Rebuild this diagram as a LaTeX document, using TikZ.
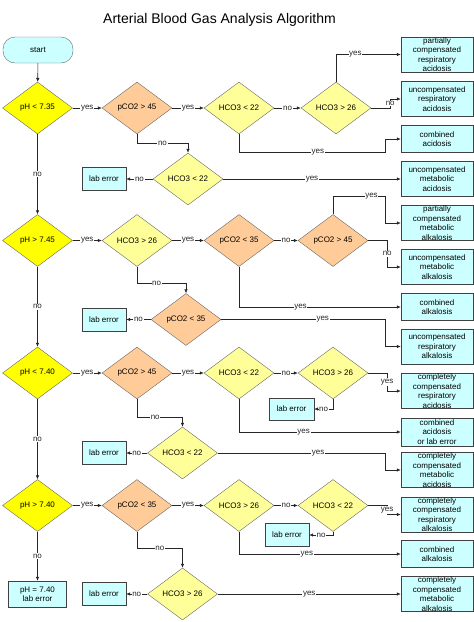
\documentclass[tikz,border=0pt]{standalone}
\usepackage{fontspec}
\setmainfont{Liberation Sans}
\usetikzlibrary{arrows.meta,shapes.geometric,shadows}
\definecolor{phyellow}{HTML}{FFFF00}
\definecolor{pcopeach}{HTML}{FFCC99}
\definecolor{hcoyellow}{HTML}{FFFF99}
\definecolor{boxcyan}{HTML}{CCFFFF}
\newcommand{\chartfont}{\fontsize{8}{9.5}\selectfont}
\tikzset{
    decision/.style={
        draw=black!60,
        diamond,
        aspect=1.35,
        inner sep=0pt,
        minimum width=70pt,
        minimum height=52pt,
        font=\chartfont
    },
    phdec/.style={decision, fill=phyellow},
    pcodec/.style={decision, fill=pcopeach},
    hcodec/.style={decision, fill=hcoyellow},
    result/.style={
        draw=black!75,
        fill=boxcyan,
        align=center,
        inner sep=0pt,
        minimum width=72pt,
        minimum height=35pt,
        font=\chartfont,
        drop shadow={shadow xshift=0.8pt, shadow yshift=-0.8pt, fill=black!55, opacity=1}
    },
    shortres/.style={result, minimum height=27pt},
    errbox/.style={result, minimum width=44pt, minimum height=23pt},
    terminal/.style={
        draw=black!60,
        fill=boxcyan,
        rounded corners=12pt,
        minimum width=70pt,
        minimum height=26pt,
        font=\chartfont
    },
    flow/.style={-{Latex[length=4pt,width=3.5pt]}, black!85, line width=0.6pt},
    lbl/.style={fill=white, inner sep=0.6pt, font=\chartfont}
}

\begin{document}
\begin{tikzpicture}[x=1pt, y=-1pt]
        \useasboundingbox (0,0) rectangle (474,622);
        \node[font=\fontsize{14}{16}\selectfont] (title) at (219.5,20) {Arterial Blood Gas Analysis Algorithm};
        \node[terminal] (start) at (38,50) {start};

        % acidosis, pH < 7.35
        \node[phdec] (ph1) at (37.5,108) {pH < 7.35};
        \node[pcodec] (pco1) at (137,108) {pCO2 > 45};
        \node[hcodec] (hco1) at (239,108) {HCO3 < 22};
        \node[hcodec] (hco2) at (336,108) {HCO3 > 26};
        \node[hcodec] (hco3) at (188,179) {HCO3 < 22};
        \node[errbox] (err1) at (104,179) {lab error};
        \node[result] (res1) at (437,54.5) {partially\\compensated\\respiratory\\acidosis};
        \node[result] (res2) at (437,99) {uncompensated\\respiratory\\acidosis};
        \node[shortres] (res3) at (437,139) {combined\\acidosis};
        \node[result] (res4) at (437,179) {uncompensated\\metabolic\\acidosis};

        % alkalosis, pH > 7.45
        \node[phdec] (ph2) at (37.5,240.5) {pH > 7.45};
        \node[hcodec] (hco4) at (137,240.5) {HCO3 > 26};
        \node[pcodec] (pco2) at (239,240.5) {pCO2 < 35};
        \node[pcodec] (pco3) at (333,240.5) {pCO2 > 45};
        \node[pcodec] (pco4) at (186,319.5) {pCO2 < 35};
        \node[errbox] (err2) at (104,319.5) {lab error};
        \node[result] (res5) at (437,223) {partially\\compensated\\metabolic\\alkalosis};
        \node[result] (res6) at (437,267) {uncompensated\\metabolic\\alkalosis};
        \node[shortres] (res7) at (437,307) {combined\\alkalosis};
        \node[result] (res8) at (437,346.5) {uncompensated\\respiratory\\alkalosis};

        % compensated, pH < 7.40
        \node[phdec] (ph3) at (37.5,373) {pH < 7.40};
        \node[pcodec] (pco5) at (137,373) {pCO2 > 45};
        \node[hcodec] (hco5) at (239,373) {HCO3 < 22};
        \node[hcodec] (hco6) at (333,373) {HCO3 > 26};
        \node[errbox, minimum width=45pt, minimum height=22pt] (err3) at (291.5,409) {lab error};
        \node[hcodec] (hco7) at (182.5,453) {HCO3 < 22};
        \node[errbox] (err4) at (104,453) {lab error};
        \node[result] (res9) at (437,391) {completely\\compensated\\respiratory\\acidosis};
        \node[result, minimum height=28pt] (res10) at (437,432) {combined\\acidosis\\or lab error};
        \node[result] (res11) at (437,470) {completely\\compensated\\metabolic\\acidosis};

        % compensated, pH > 7.40
        \node[phdec] (ph4) at (37.5,505.5) {pH > 7.40};
        \node[pcodec] (pco6) at (137,505.5) {pCO2 < 35};
        \node[hcodec] (hco8) at (239,505.5) {HCO3 > 26};
        \node[hcodec] (hco9) at (333,505.5) {HCO3 < 22};
        \node[errbox] (err5) at (287,535) {lab error};
        \node[hcodec] (hco10) at (182.5,594) {HCO3 > 26};
        \node[errbox] (err6) at (104,594) {lab error};
        \node[errbox, minimum width=58pt, minimum height=26pt] (err7) at (37.5,594) {pH = 7.40\\lab error};
        \node[result] (res12) at (437,514.5) {completely\\compensated\\respiratory\\alkalosis};
        \node[shortres] (res13) at (437,554) {combined\\alkalosis};
        \node[result] (res14) at (437,594) {completely\\compensated\\metabolic\\alkalosis};

        \draw[flow] (start) -- (ph1);
        \draw[flow] (ph1) -- node[lbl]{yes} (pco1);
        \draw[flow] (pco1) -- node[lbl]{yes} (hco1);
        \draw[flow] (hco1) -- node[lbl]{no} (hco2);
        \draw[flow] (hco2.north) |- node[lbl,pos=0.65]{yes} (res1.west);
        \draw[flow] (hco2.east) -- ++(19,0) |- node[lbl,pos=0.25]{no} (res2.west);
        \draw[flow] (hco1.south) |- node[lbl,pos=0.77]{yes} (385,152) |- (res3.west);
        \draw[flow] (pco1.south) -- ++(0,9) -| node[lbl,pos=0.25]{no} (hco3.north);
        \draw[flow] (hco3) -- node[lbl]{no} (err1);
        \draw[flow] (hco3) -- node[lbl]{yes} (res4);
        \draw[flow] (ph1) -- node[lbl]{no} (ph2);

        \draw[flow] (ph2) -- node[lbl]{yes} (hco4);
        \draw[flow] (hco4) -- node[lbl]{yes} (pco2);
        \draw[flow] (pco2) -- node[lbl]{no} (pco3);
        \draw[flow] (pco3.north) |- node[lbl,pos=0.87]{yes} (385,196) |- (res5.west);
        \draw[flow] (pco3.east) -- ++(19,0) |- node[lbl,pos=0.25]{no} (res6.west);
        \draw[flow] (pco2.south) |- node[lbl,pos=0.69]{yes} (res7.west);
        \draw[flow] (hco4.south) -- ++(0,17) -| node[lbl,pos=0.2]{no} (pco4.north);
        \draw[flow] (pco4) -- node[lbl]{no} (err2);
        \draw[flow] (pco4.east) -- node[lbl,pos=0.62]{yes} (385,319.5) |- (res8.west);
        \draw[flow] (ph2) -- node[lbl]{no} (ph3);

        \draw[flow] (ph3) -- node[lbl]{yes} (pco5);
        \draw[flow] (pco5) -- node[lbl]{yes} (hco5);
        \draw[flow] (hco5) -- node[lbl]{no} (hco6);
        \draw[flow] (hco6.east) -- ++(19,0) |- node[lbl,pos=0.25]{yes} (res9.west);
        \draw[flow] (hco6.south) |- node[lbl,pos=0.75]{no} (err3.east);
        \draw[flow] (hco5.south) |- node[lbl,pos=0.7]{yes} (res10.west);
        \draw[flow] (pco5.south) -- ++(0,18) -| node[lbl,pos=0.2]{no} (hco7.north);
        \draw[flow] (hco7) -- node[lbl]{no} (err4);
        \draw[flow] (hco7.east) -- node[lbl,pos=0.6]{yes} (385,453) |- (res11.west);
        \draw[flow] (ph3) -- node[lbl]{no} (ph4);

        \draw[flow] (ph4) -- node[lbl]{yes} (pco6);
        \draw[flow] (pco6) -- node[lbl]{yes} (hco8);
        \draw[flow] (hco8) -- node[lbl]{no} (hco9);
        \draw[flow] (hco9.east) -- ++(19,0) |- node[lbl,pos=0.25]{yes} (res12.west);
        \draw[flow] (hco9.south) |- node[lbl,pos=0.75]{no} (err5.east);
        \draw[flow] (hco8.south) |- node[lbl,pos=0.71]{yes} (res13.west);
        \draw[flow] (pco6.south) -- ++(0,17) -| node[lbl,pos=0.25]{no} (hco10.north);
        \draw[flow] (hco10) -- node[lbl]{no} (err6);
        \draw[flow] (hco10) -- node[lbl]{yes} (res14);
        \draw[flow] (ph4) -- node[lbl]{no} (err7);
    \end{tikzpicture}
\end{document}
